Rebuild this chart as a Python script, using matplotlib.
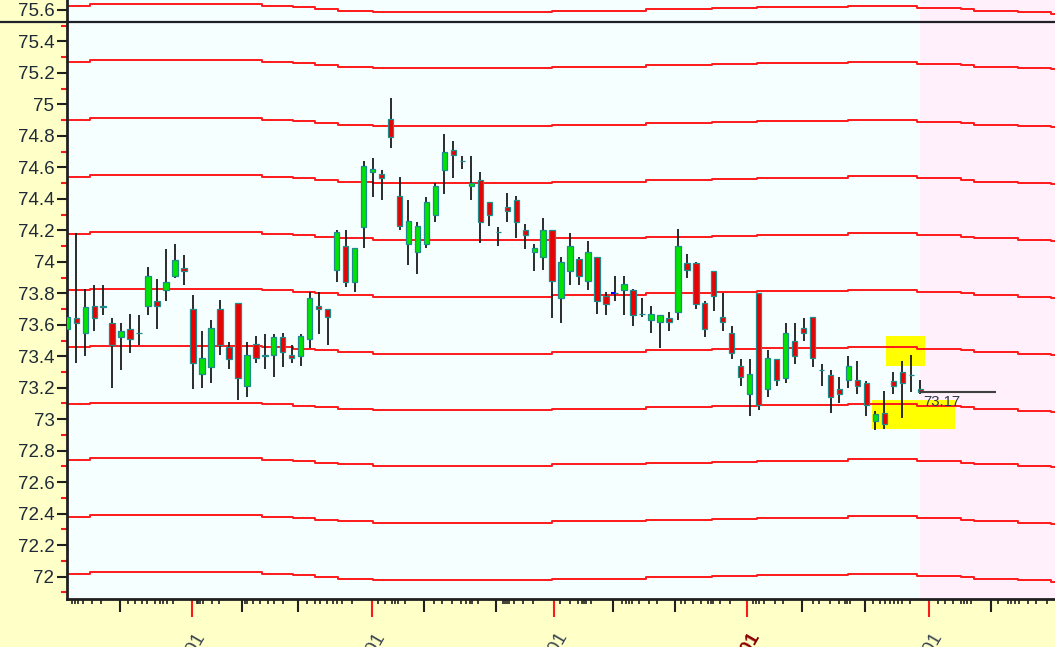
import numpy as np
import matplotlib
matplotlib.use("Agg")
import matplotlib.pyplot as plt
from matplotlib.patches import Rectangle
from matplotlib.transforms import ScaledTranslation
from matplotlib.ticker import FuncFormatter

# daily candles, left to right
opens = [73.57, 73.64, 73.55, 73.72, 73.72, 73.61, 73.52, 73.57, 73.55, 73.72,
         73.75, 73.82, 73.91, 73.96, 73.70, 73.29, 73.33, 73.70, 73.46, 73.74,
         73.21, 73.48, 73.41, 73.41, 73.52, 73.41, 73.40, 73.51, 73.72, 73.70,
         73.95, 74.10, 73.87, 74.22, 74.57, 74.56, 74.91, 74.42, 74.11, 74.06,
         74.11, 74.30, 74.58, 74.71, 74.64, 74.48, 74.52, 74.38, 74.19, 74.35,
         74.39, 74.20, 74.06, 74.03, 74.20, 73.77, 73.94, 74.02, 73.88, 74.03,
         73.78, 73.80, 73.82, 73.82, 73.67, 73.63, 73.62, 73.64, 73.68, 73.99,
         73.99, 73.74, 73.94, 73.65, 73.55, 73.34, 73.16, 73.80, 73.19, 73.38,
         73.26, 73.50, 73.58, 73.65, 73.31, 73.28, 73.19, 73.25, 73.25, 73.23,
         72.99, 73.04, 73.24, 73.30, 73.28, 73.19]
highs = [73.72, 74.18, 73.83, 73.85, 73.85, 73.64, 73.61, 73.67, 73.66, 73.97,
         73.89, 74.08, 74.11, 74.04, 73.79, 73.56, 73.63, 73.76, 73.49, 73.74,
         73.49, 73.53, 73.54, 73.54, 73.55, 73.47, 73.54, 73.81, 73.81, 73.70,
         74.20, 74.20, 74.09, 74.64, 74.66, 74.58, 75.04, 74.54, 74.39, 74.25,
         74.41, 74.50, 74.81, 74.77, 74.67, 74.67, 74.57, 74.38, 74.22, 74.44,
         74.42, 74.24, 74.11, 74.28, 74.20, 74.03, 74.18, 74.03, 74.13, 74.03,
         73.81, 73.91, 73.91, 73.83, 73.77, 73.72, 73.66, 73.68, 74.21, 74.05,
         74.00, 73.75, 73.94, 73.80, 73.59, 73.38, 73.38, 73.80, 73.44, 73.38,
         73.61, 73.61, 73.64, 73.65, 73.35, 73.31, 73.27, 73.40, 73.37, 73.24,
         73.05, 73.18, 73.30, 73.37, 73.41, 73.25]
lows = [73.51, 73.36, 73.40, 73.56, 73.66, 73.20, 73.31, 73.42, 73.47, 73.66,
        73.57, 73.75, 73.90, 73.85, 73.19, 73.20, 73.23, 73.41, 73.32, 73.12,
        73.14, 73.36, 73.32, 73.27, 73.33, 73.36, 73.34, 73.45, 73.54, 73.47,
        73.87, 73.84, 73.81, 74.09, 74.41, 74.39, 74.72, 74.20, 73.98, 73.92,
        74.09, 74.25, 74.43, 74.53, 74.59, 74.39, 74.12, 74.23, 74.10, 74.25,
        74.15, 74.08, 73.94, 73.95, 73.64, 73.61, 73.85, 73.85, 73.82, 73.67,
        73.66, 73.75, 73.66, 73.59, 73.65, 73.55, 73.45, 73.56, 73.63, 73.90,
        73.70, 73.52, 73.69, 73.56, 73.38, 73.21, 73.02, 73.06, 73.14, 73.21,
        73.23, 73.35, 73.50, 73.33, 73.21, 73.04, 73.10, 73.20, 73.16, 73.02,
        72.93, 72.94, 73.16, 73.01, 73.17, 73.16]
closes = [73.65, 73.61, 73.71, 73.64, 73.715, 73.47, 73.56, 73.51, 73.55, 73.91,
          73.72, 73.87, 74.01, 73.94, 73.36, 73.39, 73.58, 73.47, 73.38, 73.26,
          73.41, 73.39, 73.40, 73.52, 73.43, 73.39, 73.53, 73.77, 73.70, 73.65,
          74.19, 73.87, 74.09, 74.61, 74.59, 74.53, 74.79, 74.23, 74.26, 74.23,
          74.38, 74.48, 74.70, 74.68, 74.64, 74.50, 74.25, 74.30, 74.19, 74.32,
          74.25, 74.17, 74.09, 74.20, 73.88, 74.00, 74.10, 73.91, 74.06, 73.75,
          73.73, 73.80, 73.86, 73.66, 73.67, 73.67, 73.66, 73.62, 74.10, 73.95,
          73.73, 73.57, 73.78, 73.62, 73.42, 73.27, 73.29, 73.09, 73.39, 73.25,
          73.55, 73.40, 73.55, 73.39, 73.31, 73.14, 73.16, 73.34, 73.21, 73.09,
          73.03, 72.97, 73.21, 73.23, 73.28, 73.17]

# stepped red levels: start value of each line and the shared step offsets
level_start = [75.625, 75.27, 74.902, 74.54, 74.178, 73.818, 73.456, 73.096, 72.743, 72.381, 72.017]
step_x = [-0.5, 2.5, 21.7, 25.1, 27.6, 30.2, 34.1, 54.0, 64.4, 71.8, 76.8, 86.9, 94.6, 99.5, 101.0, 105.9, 109.5, 111]
step_off = [0, 0.0095, 0, -0.0089, -0.019, -0.030, -0.039, -0.030, -0.019, -0.0127, -0.0063, 0.0019,
            -0.0108, -0.019, -0.030, -0.041, -0.048, -0.048]
top_line = 75.524

# highlighted zones (x from, x to, low, high)
zones = [(91.2, 95.55, 73.34, 73.526), (89.6, 98.9, 72.94, 73.124)]

y_ticks = [72.0, 72.2, 72.4, 72.6, 72.8, 73.0, 73.2, 73.4, 73.6, 73.8, 74.0,
           74.2, 74.4, 74.6, 74.8, 75.0, 75.2, 75.4, 75.6]
month_ticks = [13.86, 33.91, 54.22, 75.72, 96.0]
month_labels = ["2021.09.01", "2021.10.01", "2021.11.01", "2022.01.01", "2022.02.01"]
week_ticks = [5.87, 19.43, 25.67, 39.72, 47.76, 60.8, 67.7, 81.82, 88.8, 102.88]
small_ticks = [0.5, 0.9, 1.2, 1.8, 2.8, 3.8, 6.8, 7.5, 8.3, 8.9, 9.8, 10.3, 10.7, 11.1, 11.8,
               14.4, 14.6, 14.8, 15.1, 16.1, 16.9, 19.8, 20.0, 20.7, 21.5, 22.3, 23.0, 24.0,
               26.7, 27.6, 28.2, 28.9, 29.6, 30.0, 30.6, 31.7, 34.6, 35.4, 36.2, 36.5, 36.8,
               37.6, 40.8, 41.7, 42.8, 43.8, 44.4, 44.8, 45.1, 45.7, 48.5, 48.7, 49.0, 49.2,
               49.7, 50.8, 51.9, 54.9, 56.0, 56.9, 57.3, 57.6, 57.8, 58.3, 61.8, 62.2, 62.6,
               62.9, 63.7, 64.8, 65.7, 68.3, 68.8, 69.7, 70.6, 71.4, 71.7, 71.9, 72.7, 73.8,
               76.4, 76.7, 77.0, 77.6, 78.8, 79.7, 83.0, 83.7, 84.9, 86.0, 86.6, 86.8, 87.2,
               89.7, 90.5, 91.1, 91.6, 92.1, 92.5, 93.0, 93.8, 97.0, 97.7, 98.6, 99.5, 99.9,
               100.2, 100.7, 103.7, 104.8, 105.1, 105.6, 106.0, 107.0, 107.9, 109.1]

plt.rcParams['font.family'] = ['Liberation Sans', 'DejaVu Sans']

fig = plt.figure(figsize=(10.55, 6.47), dpi=100, facecolor='#ffffc8')
ax = fig.add_axes([67 / 1055, 48 / 647, 1 - 67 / 1055, 599 / 647])
ax.set_facecolor('#f5ffff')

n = len(closes)
x = np.arange(n)
o = np.array(opens)
c = np.array(closes)

ax.axvspan(n - 1, 111, color='#fff0fc', zorder=0, lw=0)

for z in zones:
    ax.add_patch(Rectangle((z[0], z[2]), z[1] - z[0], z[3] - z[2],
                           facecolor='#ffff00', edgecolor='none', zorder=1))

offs = np.array(step_off)
for lv in level_start:
    ax.plot(step_x, lv + offs, drawstyle='steps-post', color='#ff1a1a', lw=1.4, zorder=2)

ax.axhline(top_line, color='#202028', lw=1.6, zorder=2, xmin=-0.07, clip_on=False)

# candles
ax.vlines(x, lows, highs, color='#1a1a1a', lw=1.3, zorder=3)
up = c >= o
ax.bar(x[up], (c - o)[up], bottom=o[up], width=0.6, color='#00e400',
       edgecolor='#1f8c8c', lw=0.9, zorder=4)
ax.bar(x[~up], (o - c)[~up], bottom=c[~up], width=0.6, color='#ee0000',
       edgecolor='#1f8c8c', lw=0.9, zorder=4)
ax.hlines(closes[61], 61 - 0.5, 61 - 0.05, color='#0000ff', lw=1.5, zorder=5)

# last price marker
ax.hlines(closes[-1], n - 1, 103.4, color='#404040', lw=1.5, zorder=5)
ax.text(n - 1 + 0.3, closes[-1] - 0.062, "%.2f" % closes[-1], fontsize=10.7,
        color='#2a3848', ha='left', va='center', zorder=6)

ax.set_xlim(-0.03, 110.0)
ax.set_ylim(71.858, 75.663)

for s in ['top', 'right']:
    ax.spines[s].set_visible(False)
for s in ['left', 'bottom']:
    ax.spines[s].set_linewidth(2)
    ax.spines[s].set_color('#202020')

ax.set_yticks(y_ticks)
ax.set_yticks(np.arange(71.9, 75.65, 0.2), minor=True)
ax.yaxis.set_major_formatter(FuncFormatter(lambda v, p: "%g" % round(v, 1)))
ax.tick_params(axis='y', which='major', length=7.5, width=1.5, color='#202020',
               labelsize=13.5, labelcolor='#1e2a36', pad=1.5)
ax.tick_params(axis='y', which='minor', length=4.5, width=1.5, color='#ff1a1a')

ax.set_xticks(month_ticks)
ax.set_xticks(small_ticks, minor=True)
ax.tick_params(axis='x', which='major', length=13, width=1.5, color='#ff1a1a', labelbottom=False)
ax.tick_params(axis='x', which='minor', length=3.6, width=1.2, color='#202020')

sec = ax.secondary_xaxis('bottom')
sec.set_xticks(week_ticks)
sec.tick_params(length=9, width=1.5, color='#202020', labelbottom=False)
sec.spines['bottom'].set_visible(False)

off = ScaledTranslation(9 / 100, -35 / 100, fig.dpi_scale_trans)
for i, (t, lab) in enumerate(zip(month_ticks, month_labels)):
    col = '#8b0000' if lab.endswith('01.01') else '#3a4450'
    ax.text(t, 0, lab, transform=ax.get_xaxis_transform() + off, rotation=60,
            rotation_mode='anchor', ha='right', va='center', fontsize=13.5,
            color=col, fontweight='bold' if col == '#8b0000' else 'normal', clip_on=False)

fig.savefig("out.png", dpi=100, facecolor=fig.get_facecolor())
